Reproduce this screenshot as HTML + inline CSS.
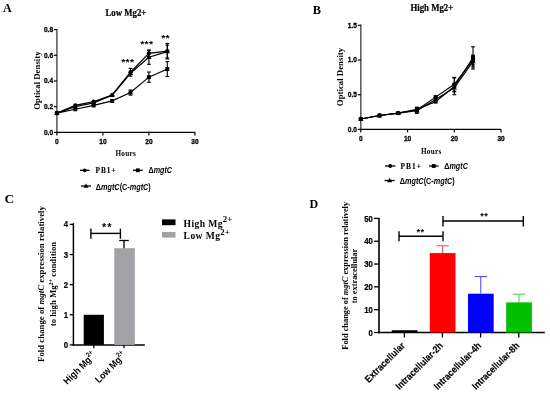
<!DOCTYPE html>
<html><head><meta charset="utf-8"><style>
html,body{margin:0;padding:0;background:#fff;width:550px;height:393px;overflow:hidden}
#w{width:550px;height:393px;will-change:transform}
svg{display:block}
text{fill:#000}
</style></head><body><div id="w">
<svg width="550" height="393" viewBox="0 0 550 393">
<rect width="550" height="393" fill="#fff"/>
<text transform="translate(3.00,12.00)" font-size="12" style="font-family:'Liberation Serif',serif;font-weight:bold" text-anchor="start" >A</text>
<text transform="translate(105.50,15.80) scale(1.0,1.08)" font-size="8.8" style="font-family:'Liberation Serif',serif;font-weight:bold" text-anchor="start" stroke="#000" stroke-width="0.2">Low Mg2+</text>
<line x1="56.90" y1="29.00" x2="56.90" y2="133.00" stroke="#606060" stroke-width="1.6"/>
<line x1="56.30" y1="132.40" x2="195.20" y2="132.40" stroke="#000" stroke-width="1.3"/>
<line x1="53.90" y1="132.40" x2="56.90" y2="132.40" stroke="#000" stroke-width="1.2"/>
<text transform="translate(53.10,134.80) scale(1.0,1.2)" font-size="6.6" style="font-family:'Liberation Sans',sans-serif;font-weight:bold" text-anchor="end" stroke="#000" stroke-width="0.25">0.0</text>
<line x1="53.90" y1="106.70" x2="56.90" y2="106.70" stroke="#000" stroke-width="1.2"/>
<text transform="translate(53.10,109.10) scale(1.0,1.2)" font-size="6.6" style="font-family:'Liberation Sans',sans-serif;font-weight:bold" text-anchor="end" stroke="#000" stroke-width="0.25">0.2</text>
<line x1="53.90" y1="81.00" x2="56.90" y2="81.00" stroke="#000" stroke-width="1.2"/>
<text transform="translate(53.10,83.40) scale(1.0,1.2)" font-size="6.6" style="font-family:'Liberation Sans',sans-serif;font-weight:bold" text-anchor="end" stroke="#000" stroke-width="0.25">0.4</text>
<line x1="53.90" y1="55.30" x2="56.90" y2="55.30" stroke="#000" stroke-width="1.2"/>
<text transform="translate(53.10,57.70) scale(1.0,1.2)" font-size="6.6" style="font-family:'Liberation Sans',sans-serif;font-weight:bold" text-anchor="end" stroke="#000" stroke-width="0.25">0.6</text>
<line x1="53.90" y1="29.60" x2="56.90" y2="29.60" stroke="#000" stroke-width="1.2"/>
<text transform="translate(53.10,32.00) scale(1.0,1.2)" font-size="6.6" style="font-family:'Liberation Sans',sans-serif;font-weight:bold" text-anchor="end" stroke="#000" stroke-width="0.25">0.8</text>
<line x1="56.90" y1="132.40" x2="56.90" y2="135.40" stroke="#000" stroke-width="1.2"/>
<text transform="translate(56.90,143.90) scale(1.0,1.2)" font-size="6.6" style="font-family:'Liberation Sans',sans-serif;font-weight:bold" text-anchor="middle" stroke="#000" stroke-width="0.25">0</text>
<line x1="102.90" y1="132.40" x2="102.90" y2="135.40" stroke="#000" stroke-width="1.2"/>
<text transform="translate(102.90,143.90) scale(1.0,1.2)" font-size="6.6" style="font-family:'Liberation Sans',sans-serif;font-weight:bold" text-anchor="middle" stroke="#000" stroke-width="0.25">10</text>
<line x1="148.90" y1="132.40" x2="148.90" y2="135.40" stroke="#000" stroke-width="1.2"/>
<text transform="translate(148.90,143.90) scale(1.0,1.2)" font-size="6.6" style="font-family:'Liberation Sans',sans-serif;font-weight:bold" text-anchor="middle" stroke="#000" stroke-width="0.25">20</text>
<line x1="194.90" y1="132.40" x2="194.90" y2="135.40" stroke="#000" stroke-width="1.2"/>
<text transform="translate(194.90,143.90) scale(1.0,1.2)" font-size="6.6" style="font-family:'Liberation Sans',sans-serif;font-weight:bold" text-anchor="middle" stroke="#000" stroke-width="0.25">30</text>
<polyline points="56.90,113.12 75.30,109.27 93.70,105.42 112.10,100.92 130.50,92.56 148.90,77.15 167.30,69.05" fill="none" stroke="#000" stroke-width="1.2"/>
<line x1="130.50" y1="90.00" x2="130.50" y2="95.14" stroke="#000" stroke-width="1.1"/>
<line x1="128.60" y1="90.00" x2="132.40" y2="90.00" stroke="#000" stroke-width="1.1"/>
<line x1="128.60" y1="95.14" x2="132.40" y2="95.14" stroke="#000" stroke-width="1.1"/>
<line x1="148.90" y1="72.01" x2="148.90" y2="82.28" stroke="#000" stroke-width="1.1"/>
<line x1="147.00" y1="72.01" x2="150.80" y2="72.01" stroke="#000" stroke-width="1.1"/>
<line x1="147.00" y1="82.28" x2="150.80" y2="82.28" stroke="#000" stroke-width="1.1"/>
<line x1="167.30" y1="61.60" x2="167.30" y2="76.50" stroke="#000" stroke-width="1.1"/>
<line x1="165.40" y1="61.60" x2="169.20" y2="61.60" stroke="#000" stroke-width="1.1"/>
<line x1="165.40" y1="76.50" x2="169.20" y2="76.50" stroke="#000" stroke-width="1.1"/>
<rect x="54.90" y="111.12" width="4.00" height="4.00" fill="#000"/>
<rect x="73.30" y="107.27" width="4.00" height="4.00" fill="#000"/>
<rect x="91.70" y="103.42" width="4.00" height="4.00" fill="#000"/>
<rect x="110.10" y="98.92" width="4.00" height="4.00" fill="#000"/>
<rect x="128.50" y="90.56" width="4.00" height="4.00" fill="#000"/>
<rect x="146.90" y="75.15" width="4.00" height="4.00" fill="#000"/>
<rect x="165.30" y="67.05" width="4.00" height="4.00" fill="#000"/>
<polyline points="56.90,113.12 75.30,106.70 93.70,102.84 112.10,95.14 130.50,73.29 148.90,57.23 167.30,51.57" fill="none" stroke="#000" stroke-width="1.2"/>
<line x1="148.90" y1="50.16" x2="148.90" y2="64.30" stroke="#000" stroke-width="1.1"/>
<line x1="147.00" y1="50.16" x2="150.80" y2="50.16" stroke="#000" stroke-width="1.1"/>
<line x1="147.00" y1="64.30" x2="150.80" y2="64.30" stroke="#000" stroke-width="1.1"/>
<line x1="167.30" y1="45.15" x2="167.30" y2="58.00" stroke="#000" stroke-width="1.1"/>
<line x1="165.40" y1="45.15" x2="169.20" y2="45.15" stroke="#000" stroke-width="1.1"/>
<line x1="165.40" y1="58.00" x2="169.20" y2="58.00" stroke="#000" stroke-width="1.1"/>
<polygon points="56.90,110.56 59.57,114.88 54.23,114.88" fill="#000"/>
<polygon points="75.30,104.13 77.97,108.46 72.63,108.46" fill="#000"/>
<polygon points="93.70,100.28 96.37,104.60 91.03,104.60" fill="#000"/>
<polygon points="112.10,92.57 114.77,96.89 109.43,96.89" fill="#000"/>
<polygon points="130.50,70.72 133.17,75.05 127.83,75.05" fill="#000"/>
<polygon points="148.90,54.66 151.57,58.99 146.23,58.99" fill="#000"/>
<polygon points="167.30,49.00 169.97,53.33 164.63,53.33" fill="#000"/>
<polyline points="56.90,113.12 75.30,105.42 93.70,101.56 112.10,95.14 130.50,72.26 148.90,53.37 167.30,51.19" fill="none" stroke="#000" stroke-width="1.2"/>
<line x1="130.50" y1="68.41" x2="130.50" y2="76.12" stroke="#000" stroke-width="1.1"/>
<line x1="128.60" y1="68.41" x2="132.40" y2="68.41" stroke="#000" stroke-width="1.1"/>
<line x1="128.60" y1="76.12" x2="132.40" y2="76.12" stroke="#000" stroke-width="1.1"/>
<line x1="148.90" y1="50.16" x2="148.90" y2="56.59" stroke="#000" stroke-width="1.1"/>
<line x1="147.00" y1="50.16" x2="150.80" y2="50.16" stroke="#000" stroke-width="1.1"/>
<line x1="147.00" y1="56.59" x2="150.80" y2="56.59" stroke="#000" stroke-width="1.1"/>
<line x1="167.30" y1="43.48" x2="167.30" y2="58.90" stroke="#000" stroke-width="1.1"/>
<line x1="165.40" y1="43.48" x2="169.20" y2="43.48" stroke="#000" stroke-width="1.1"/>
<line x1="165.40" y1="58.90" x2="169.20" y2="58.90" stroke="#000" stroke-width="1.1"/>
<circle cx="56.90" cy="113.12" r="2.15" fill="#000"/>
<circle cx="75.30" cy="105.42" r="2.15" fill="#000"/>
<circle cx="93.70" cy="101.56" r="2.15" fill="#000"/>
<circle cx="112.10" cy="95.14" r="2.15" fill="#000"/>
<circle cx="130.50" cy="72.26" r="2.15" fill="#000"/>
<circle cx="148.90" cy="53.37" r="2.15" fill="#000"/>
<circle cx="167.30" cy="51.19" r="2.15" fill="#000"/>
<text transform="translate(125.80,155.70) scale(1.0,1.1)" font-size="7.2" style="font-family:'Liberation Serif',serif;font-weight:bold" text-anchor="middle" letter-spacing="0.3">Hours</text>
<text transform="translate(39.60,80.60) rotate(-90) scale(1.1,1.0)" font-size="8.0" style="font-family:'Liberation Serif',serif;font-weight:bold" text-anchor="middle" >Optical Density</text>
<text transform="translate(127.80,65.30) scale(1.0,0.9)" font-size="10.5" style="font-family:'Liberation Sans',sans-serif;font-weight:bold" text-anchor="middle" letter-spacing="0.3">***</text>
<text transform="translate(146.80,47.10) scale(1.0,0.9)" font-size="10.5" style="font-family:'Liberation Sans',sans-serif;font-weight:bold" text-anchor="middle" letter-spacing="0.3">***</text>
<text transform="translate(165.60,41.00) scale(1.0,0.9)" font-size="10.5" style="font-family:'Liberation Sans',sans-serif;font-weight:bold" text-anchor="middle" letter-spacing="0.3">**</text>
<line x1="80.00" y1="170.30" x2="89.50" y2="170.30" stroke="#000" stroke-width="1.3"/>
<circle cx="84.75" cy="170.30" r="1.9" fill="#000"/>
<text transform="translate(95.40,173.10) scale(1.0,1.12)" font-size="7.4" style="font-family:'Liberation Serif',serif;font-weight:bold" text-anchor="start" letter-spacing="1.0" stroke="#000" stroke-width="0.12">PB1+</text>
<line x1="133.00" y1="170.30" x2="142.70" y2="170.30" stroke="#000" stroke-width="1.3"/>
<rect x="135.95" y="168.40" width="3.80" height="3.80" fill="#000"/>
<text transform="translate(148.50,173.30) scale(1.0,1.18)" font-size="7.2" style="font-family:'Liberation Sans',sans-serif;font-weight:bold" text-anchor="start" >&#916;<tspan font-style="italic">mgtC</tspan></text>
<line x1="81.00" y1="186.00" x2="91.00" y2="186.00" stroke="#000" stroke-width="1.3"/>
<polygon points="86.00,183.54 88.55,187.66 83.45,187.66" fill="#000"/>
<text transform="translate(95.80,189.50) scale(1.0,1.22)" font-size="7.2" style="font-family:'Liberation Sans',sans-serif;font-weight:bold" text-anchor="start" textLength="55" lengthAdjust="spacingAndGlyphs">&#916;<tspan font-style="italic">mgtC</tspan>(C-<tspan font-style="italic">mgtC</tspan>)</text>
<text transform="translate(312.80,14.30)" font-size="12.3" style="font-family:'Liberation Serif',serif;font-weight:bold" text-anchor="start" >B</text>
<text transform="translate(410.40,10.90) scale(1.0,1.08)" font-size="8.8" style="font-family:'Liberation Serif',serif;font-weight:bold" text-anchor="start" stroke="#000" stroke-width="0.2">High Mg2+</text>
<line x1="360.80" y1="24.60" x2="360.80" y2="130.00" stroke="#606060" stroke-width="1.6"/>
<line x1="360.20" y1="129.40" x2="500.90" y2="129.40" stroke="#000" stroke-width="1.3"/>
<line x1="357.80" y1="129.40" x2="360.80" y2="129.40" stroke="#000" stroke-width="1.2"/>
<text transform="translate(357.00,131.80) scale(1.0,1.2)" font-size="6.6" style="font-family:'Liberation Sans',sans-serif;font-weight:bold" text-anchor="end" stroke="#000" stroke-width="0.25">0.0</text>
<line x1="357.80" y1="94.70" x2="360.80" y2="94.70" stroke="#000" stroke-width="1.2"/>
<text transform="translate(357.00,97.10) scale(1.0,1.2)" font-size="6.6" style="font-family:'Liberation Sans',sans-serif;font-weight:bold" text-anchor="end" stroke="#000" stroke-width="0.25">0.5</text>
<line x1="357.80" y1="60.00" x2="360.80" y2="60.00" stroke="#000" stroke-width="1.2"/>
<text transform="translate(357.00,62.40) scale(1.0,1.2)" font-size="6.6" style="font-family:'Liberation Sans',sans-serif;font-weight:bold" text-anchor="end" stroke="#000" stroke-width="0.25">1.0</text>
<line x1="357.80" y1="25.30" x2="360.80" y2="25.30" stroke="#000" stroke-width="1.2"/>
<text transform="translate(357.00,27.70) scale(1.0,1.2)" font-size="6.6" style="font-family:'Liberation Sans',sans-serif;font-weight:bold" text-anchor="end" stroke="#000" stroke-width="0.25">1.5</text>
<line x1="360.80" y1="129.40" x2="360.80" y2="132.40" stroke="#000" stroke-width="1.2"/>
<text transform="translate(360.80,141.20) scale(1.0,1.2)" font-size="6.6" style="font-family:'Liberation Sans',sans-serif;font-weight:bold" text-anchor="middle" stroke="#000" stroke-width="0.25">0</text>
<line x1="407.55" y1="129.40" x2="407.55" y2="132.40" stroke="#000" stroke-width="1.2"/>
<text transform="translate(407.55,141.20) scale(1.0,1.2)" font-size="6.6" style="font-family:'Liberation Sans',sans-serif;font-weight:bold" text-anchor="middle" stroke="#000" stroke-width="0.25">10</text>
<line x1="454.30" y1="129.40" x2="454.30" y2="132.40" stroke="#000" stroke-width="1.2"/>
<text transform="translate(454.30,141.20) scale(1.0,1.2)" font-size="6.6" style="font-family:'Liberation Sans',sans-serif;font-weight:bold" text-anchor="middle" stroke="#000" stroke-width="0.25">20</text>
<line x1="501.05" y1="129.40" x2="501.05" y2="132.40" stroke="#000" stroke-width="1.2"/>
<text transform="translate(501.05,141.20) scale(1.0,1.2)" font-size="6.6" style="font-family:'Liberation Sans',sans-serif;font-weight:bold" text-anchor="middle" stroke="#000" stroke-width="0.25">30</text>
<polyline points="360.80,118.99 379.50,115.52 398.20,113.09 416.90,109.27 435.60,101.64 454.30,86.37 473.00,57.92" fill="none" stroke="#000" stroke-width="1.2"/>
<line x1="416.90" y1="107.19" x2="416.90" y2="111.36" stroke="#000" stroke-width="1.1"/>
<line x1="415.00" y1="107.19" x2="418.80" y2="107.19" stroke="#000" stroke-width="1.1"/>
<line x1="415.00" y1="111.36" x2="418.80" y2="111.36" stroke="#000" stroke-width="1.1"/>
<line x1="454.30" y1="78.04" x2="454.30" y2="94.70" stroke="#000" stroke-width="1.1"/>
<line x1="452.40" y1="78.04" x2="456.20" y2="78.04" stroke="#000" stroke-width="1.1"/>
<line x1="452.40" y1="94.70" x2="456.20" y2="94.70" stroke="#000" stroke-width="1.1"/>
<line x1="473.00" y1="46.81" x2="473.00" y2="69.02" stroke="#000" stroke-width="1.1"/>
<line x1="471.10" y1="46.81" x2="474.90" y2="46.81" stroke="#000" stroke-width="1.1"/>
<line x1="471.10" y1="69.02" x2="474.90" y2="69.02" stroke="#000" stroke-width="1.1"/>
<rect x="358.80" y="116.99" width="4.00" height="4.00" fill="#000"/>
<rect x="377.50" y="113.52" width="4.00" height="4.00" fill="#000"/>
<rect x="396.20" y="111.09" width="4.00" height="4.00" fill="#000"/>
<rect x="414.90" y="107.27" width="4.00" height="4.00" fill="#000"/>
<rect x="433.60" y="99.64" width="4.00" height="4.00" fill="#000"/>
<rect x="452.30" y="84.37" width="4.00" height="4.00" fill="#000"/>
<rect x="471.00" y="55.92" width="4.00" height="4.00" fill="#000"/>
<polyline points="360.80,118.99 379.50,115.52 398.20,113.09 416.90,110.66 435.60,99.56 454.30,87.76 473.00,61.39" fill="none" stroke="#000" stroke-width="1.2"/>
<line x1="416.90" y1="107.89" x2="416.90" y2="113.44" stroke="#000" stroke-width="1.1"/>
<line x1="415.00" y1="107.89" x2="418.80" y2="107.89" stroke="#000" stroke-width="1.1"/>
<line x1="415.00" y1="113.44" x2="418.80" y2="113.44" stroke="#000" stroke-width="1.1"/>
<line x1="454.30" y1="83.60" x2="454.30" y2="91.92" stroke="#000" stroke-width="1.1"/>
<line x1="452.40" y1="83.60" x2="456.20" y2="83.60" stroke="#000" stroke-width="1.1"/>
<line x1="452.40" y1="91.92" x2="456.20" y2="91.92" stroke="#000" stroke-width="1.1"/>
<line x1="473.00" y1="55.84" x2="473.00" y2="66.94" stroke="#000" stroke-width="1.1"/>
<line x1="471.10" y1="55.84" x2="474.90" y2="55.84" stroke="#000" stroke-width="1.1"/>
<line x1="471.10" y1="66.94" x2="474.90" y2="66.94" stroke="#000" stroke-width="1.1"/>
<polygon points="360.80,116.42 363.47,120.75 358.13,120.75" fill="#000"/>
<polygon points="379.50,112.95 382.17,117.28 376.83,117.28" fill="#000"/>
<polygon points="398.20,110.52 400.87,114.85 395.53,114.85" fill="#000"/>
<polygon points="416.90,108.09 419.57,112.42 414.23,112.42" fill="#000"/>
<polygon points="435.60,96.99 438.27,101.32 432.93,101.32" fill="#000"/>
<polygon points="454.30,85.19 456.97,89.52 451.63,89.52" fill="#000"/>
<polygon points="473.00,58.82 475.67,63.15 470.33,63.15" fill="#000"/>
<polyline points="360.80,118.99 379.50,115.52 398.20,113.09 416.90,109.97 435.60,97.13 454.30,84.29 473.00,60.00" fill="none" stroke="#000" stroke-width="1.2"/>
<line x1="416.90" y1="107.89" x2="416.90" y2="112.05" stroke="#000" stroke-width="1.1"/>
<line x1="415.00" y1="107.89" x2="418.80" y2="107.89" stroke="#000" stroke-width="1.1"/>
<line x1="415.00" y1="112.05" x2="418.80" y2="112.05" stroke="#000" stroke-width="1.1"/>
<line x1="435.60" y1="95.74" x2="435.60" y2="98.52" stroke="#000" stroke-width="1.1"/>
<line x1="433.70" y1="95.74" x2="437.50" y2="95.74" stroke="#000" stroke-width="1.1"/>
<line x1="433.70" y1="98.52" x2="437.50" y2="98.52" stroke="#000" stroke-width="1.1"/>
<line x1="454.30" y1="77.35" x2="454.30" y2="91.23" stroke="#000" stroke-width="1.1"/>
<line x1="452.40" y1="77.35" x2="456.20" y2="77.35" stroke="#000" stroke-width="1.1"/>
<line x1="452.40" y1="91.23" x2="456.20" y2="91.23" stroke="#000" stroke-width="1.1"/>
<line x1="473.00" y1="55.14" x2="473.00" y2="64.86" stroke="#000" stroke-width="1.1"/>
<line x1="471.10" y1="55.14" x2="474.90" y2="55.14" stroke="#000" stroke-width="1.1"/>
<line x1="471.10" y1="64.86" x2="474.90" y2="64.86" stroke="#000" stroke-width="1.1"/>
<circle cx="360.80" cy="118.99" r="2.15" fill="#000"/>
<circle cx="379.50" cy="115.52" r="2.15" fill="#000"/>
<circle cx="398.20" cy="113.09" r="2.15" fill="#000"/>
<circle cx="416.90" cy="109.97" r="2.15" fill="#000"/>
<circle cx="435.60" cy="97.13" r="2.15" fill="#000"/>
<circle cx="454.30" cy="84.29" r="2.15" fill="#000"/>
<circle cx="473.00" cy="60.00" r="2.15" fill="#000"/>
<text transform="translate(431.30,154.10) scale(1.0,1.1)" font-size="7.2" style="font-family:'Liberation Serif',serif;font-weight:bold" text-anchor="middle" letter-spacing="0.3">Hours</text>
<text transform="translate(343.40,77.00) rotate(-90) scale(1.1,1.0)" font-size="8.0" style="font-family:'Liberation Serif',serif;font-weight:bold" text-anchor="middle" >Optical Density</text>
<line x1="385.00" y1="166.00" x2="395.40" y2="166.00" stroke="#000" stroke-width="1.3"/>
<circle cx="390.20" cy="166.00" r="1.9" fill="#000"/>
<text transform="translate(400.50,168.80) scale(1.0,1.12)" font-size="7.4" style="font-family:'Liberation Serif',serif;font-weight:bold" text-anchor="start" letter-spacing="1.0" stroke="#000" stroke-width="0.12">PB1+</text>
<line x1="429.00" y1="166.00" x2="438.50" y2="166.00" stroke="#000" stroke-width="1.3"/>
<rect x="431.85" y="164.10" width="3.80" height="3.80" fill="#000"/>
<text transform="translate(444.30,169.00) scale(1.0,1.18)" font-size="7.2" style="font-family:'Liberation Sans',sans-serif;font-weight:bold" text-anchor="start" >&#916;<tspan font-style="italic">mgtC</tspan></text>
<line x1="384.50" y1="180.50" x2="394.70" y2="180.50" stroke="#000" stroke-width="1.3"/>
<polygon points="389.60,178.04 392.16,182.16 387.05,182.16" fill="#000"/>
<text transform="translate(399.80,184.00) scale(1.0,1.22)" font-size="7.2" style="font-family:'Liberation Sans',sans-serif;font-weight:bold" text-anchor="start" textLength="55" lengthAdjust="spacingAndGlyphs">&#916;<tspan font-style="italic">mgtC</tspan>(C-<tspan font-style="italic">mgtC</tspan>)</text>
<text transform="translate(4.60,203.00)" font-size="13.5" style="font-family:'Liberation Serif',serif;font-weight:bold" text-anchor="start" >C</text>
<text transform="translate(44.00,284.00) rotate(-90) scale(1.13,1.0)" font-size="7.8" style="font-family:'Liberation Serif',serif;font-weight:bold" text-anchor="middle" >Fold change of <tspan font-style="italic">mgtC</tspan> expression relatively</text>
<text transform="translate(56.20,284.00) rotate(-90) scale(1.12,1.0)" font-size="7.8" style="font-family:'Liberation Serif',serif;font-weight:bold" text-anchor="middle" >to high Mg<tspan font-size="5.5" dy="-3">2+</tspan><tspan dy="3"> condition</tspan></text>
<line x1="73.40" y1="223.20" x2="73.40" y2="345.60" stroke="#000" stroke-width="1.5"/>
<line x1="72.70" y1="344.90" x2="144.80" y2="344.90" stroke="#000" stroke-width="1.5"/>
<line x1="69.80" y1="344.90" x2="73.40" y2="344.90" stroke="#000" stroke-width="1.3"/>
<text transform="translate(68.20,347.90) scale(1.0,1.12)" font-size="7.8" style="font-family:'Liberation Sans',sans-serif;font-weight:bold" text-anchor="end" stroke="#000" stroke-width="0.2">0</text>
<line x1="69.80" y1="314.77" x2="73.40" y2="314.77" stroke="#000" stroke-width="1.3"/>
<text transform="translate(68.20,317.77) scale(1.0,1.12)" font-size="7.8" style="font-family:'Liberation Sans',sans-serif;font-weight:bold" text-anchor="end" stroke="#000" stroke-width="0.2">1</text>
<line x1="69.80" y1="284.65" x2="73.40" y2="284.65" stroke="#000" stroke-width="1.3"/>
<text transform="translate(68.20,287.65) scale(1.0,1.12)" font-size="7.8" style="font-family:'Liberation Sans',sans-serif;font-weight:bold" text-anchor="end" stroke="#000" stroke-width="0.2">2</text>
<line x1="69.80" y1="254.52" x2="73.40" y2="254.52" stroke="#000" stroke-width="1.3"/>
<text transform="translate(68.20,257.52) scale(1.0,1.12)" font-size="7.8" style="font-family:'Liberation Sans',sans-serif;font-weight:bold" text-anchor="end" stroke="#000" stroke-width="0.2">3</text>
<line x1="69.80" y1="224.40" x2="73.40" y2="224.40" stroke="#000" stroke-width="1.3"/>
<text transform="translate(68.20,227.40) scale(1.0,1.12)" font-size="7.8" style="font-family:'Liberation Sans',sans-serif;font-weight:bold" text-anchor="end" stroke="#000" stroke-width="0.2">4</text>
<rect x="83.70" y="314.77" width="20.20" height="30.12" fill="#000"/>
<rect x="114.30" y="248.20" width="20.50" height="96.70" fill="#a2a2a6"/>
<line x1="124.00" y1="240.50" x2="124.00" y2="248.20" stroke="#000" stroke-width="1.3"/>
<line x1="119.20" y1="240.50" x2="128.80" y2="240.50" stroke="#000" stroke-width="1.3"/>
<line x1="93.80" y1="344.90" x2="93.80" y2="348.20" stroke="#000" stroke-width="1.3"/>
<line x1="124.00" y1="344.90" x2="124.00" y2="348.20" stroke="#000" stroke-width="1.3"/>
<line x1="90.90" y1="233.40" x2="120.40" y2="233.40" stroke="#000" stroke-width="1.4"/>
<line x1="90.90" y1="228.60" x2="90.90" y2="238.70" stroke="#000" stroke-width="1.4"/>
<line x1="120.40" y1="228.60" x2="120.40" y2="238.70" stroke="#000" stroke-width="1.4"/>
<text transform="translate(107.30,231.30) scale(1.0,0.95)" font-size="11" style="font-family:'Liberation Sans',sans-serif;font-weight:bold" text-anchor="middle" letter-spacing="1.0">**</text>
<rect x="162.00" y="219.40" width="13.50" height="5.80" fill="#000"/>
<rect x="162.00" y="232.00" width="13.50" height="5.60" fill="#a2a2a6"/>
<text transform="translate(183.60,226.80) scale(1.0,1.05)" font-size="9.6" style="font-family:'Liberation Serif',serif;font-weight:bold" text-anchor="start" letter-spacing="0.4">High Mg<tspan font-size="8.8" dy="-4.3" dx="-0.2" letter-spacing="0.2">2+</tspan></text>
<text transform="translate(183.60,239.40) scale(1.0,1.05)" font-size="9.6" style="font-family:'Liberation Serif',serif;font-weight:bold" text-anchor="start" letter-spacing="0.4">Low Mg<tspan font-size="8.8" dy="-4.3" dx="-0.2" letter-spacing="0.2">2+</tspan></text>
<text transform="translate(91.90,360.40) rotate(-45) scale(1.0,1.1)" font-size="8.8" style="font-family:'Liberation Sans',sans-serif;font-weight:bold" text-anchor="end" >High Mg</text>
<text transform="translate(88.50,357.60) rotate(-45) scale(1.0,1.1)" font-size="6" style="font-family:'Liberation Sans',sans-serif;font-weight:bold" text-anchor="start" >2+</text>
<text transform="translate(122.10,360.40) rotate(-45) scale(1.0,1.1)" font-size="8.8" style="font-family:'Liberation Sans',sans-serif;font-weight:bold" text-anchor="end" >Low Mg</text>
<text transform="translate(118.70,357.60) rotate(-45) scale(1.0,1.1)" font-size="6" style="font-family:'Liberation Sans',sans-serif;font-weight:bold" text-anchor="start" >2+</text>
<text transform="translate(309.50,207.60)" font-size="12" style="font-family:'Liberation Serif',serif;font-weight:bold" text-anchor="start" >D</text>
<text transform="translate(347.60,275.80) rotate(-90) scale(1.1,1.0)" font-size="7.6" style="font-family:'Liberation Serif',serif;font-weight:bold" text-anchor="middle" >Fold change of <tspan font-style="italic">mgtC</tspan> expression relatively</text>
<text transform="translate(357.20,276.00) rotate(-90) scale(1.1,1.0)" font-size="7.6" style="font-family:'Liberation Serif',serif;font-weight:bold" text-anchor="middle" >to extracellular</text>
<line x1="379.00" y1="218.00" x2="379.00" y2="333.20" stroke="#000" stroke-width="1.6"/>
<line x1="378.30" y1="332.50" x2="544.80" y2="332.50" stroke="#000" stroke-width="1.6"/>
<line x1="374.00" y1="332.50" x2="379.00" y2="332.50" stroke="#000" stroke-width="1.3"/>
<text transform="translate(372.90,335.60) scale(1.0,1.15)" font-size="7.8" style="font-family:'Liberation Sans',sans-serif;font-weight:bold" text-anchor="end" stroke="#000" stroke-width="0.2">0</text>
<line x1="374.00" y1="309.68" x2="379.00" y2="309.68" stroke="#000" stroke-width="1.3"/>
<text transform="translate(372.90,312.78) scale(1.0,1.15)" font-size="7.8" style="font-family:'Liberation Sans',sans-serif;font-weight:bold" text-anchor="end" stroke="#000" stroke-width="0.2">10</text>
<line x1="374.00" y1="286.86" x2="379.00" y2="286.86" stroke="#000" stroke-width="1.3"/>
<text transform="translate(372.90,289.96) scale(1.0,1.15)" font-size="7.8" style="font-family:'Liberation Sans',sans-serif;font-weight:bold" text-anchor="end" stroke="#000" stroke-width="0.2">20</text>
<line x1="374.00" y1="264.04" x2="379.00" y2="264.04" stroke="#000" stroke-width="1.3"/>
<text transform="translate(372.90,267.14) scale(1.0,1.15)" font-size="7.8" style="font-family:'Liberation Sans',sans-serif;font-weight:bold" text-anchor="end" stroke="#000" stroke-width="0.2">30</text>
<line x1="374.00" y1="241.22" x2="379.00" y2="241.22" stroke="#000" stroke-width="1.3"/>
<text transform="translate(372.90,244.32) scale(1.0,1.15)" font-size="7.8" style="font-family:'Liberation Sans',sans-serif;font-weight:bold" text-anchor="end" stroke="#000" stroke-width="0.2">40</text>
<line x1="374.00" y1="218.40" x2="379.00" y2="218.40" stroke="#000" stroke-width="1.3"/>
<text transform="translate(372.90,221.50) scale(1.0,1.15)" font-size="7.8" style="font-family:'Liberation Sans',sans-serif;font-weight:bold" text-anchor="end" stroke="#000" stroke-width="0.2">50</text>
<rect x="391.80" y="330.22" width="25.70" height="2.28" fill="#000000"/>
<line x1="404.40" y1="332.50" x2="404.40" y2="337.50" stroke="#000" stroke-width="1.3"/>
<rect x="429.80" y="253.09" width="25.70" height="79.41" fill="#ff0000"/>
<g opacity="0.75">
<line x1="442.60" y1="245.78" x2="442.60" y2="253.09" stroke="#ff0000" stroke-width="1.0"/>
<line x1="436.40" y1="245.78" x2="448.80" y2="245.78" stroke="#ff0000" stroke-width="1.0"/>
</g>
<line x1="442.40" y1="332.50" x2="442.40" y2="337.50" stroke="#000" stroke-width="1.3"/>
<rect x="468.00" y="293.71" width="25.70" height="38.79" fill="#0000ff"/>
<g opacity="0.75">
<line x1="480.80" y1="276.59" x2="480.80" y2="293.71" stroke="#0000ff" stroke-width="1.0"/>
<line x1="474.60" y1="276.59" x2="487.00" y2="276.59" stroke="#0000ff" stroke-width="1.0"/>
</g>
<line x1="480.60" y1="332.50" x2="480.60" y2="337.50" stroke="#000" stroke-width="1.3"/>
<rect x="506.20" y="302.38" width="25.70" height="30.12" fill="#00c000"/>
<g opacity="0.75">
<line x1="519.00" y1="294.16" x2="519.00" y2="302.38" stroke="#00c000" stroke-width="1.0"/>
<line x1="512.80" y1="294.16" x2="525.20" y2="294.16" stroke="#00c000" stroke-width="1.0"/>
</g>
<line x1="518.80" y1="332.50" x2="518.80" y2="337.50" stroke="#000" stroke-width="1.3"/>
<line x1="399.00" y1="236.30" x2="443.00" y2="236.30" stroke="#000" stroke-width="1.4"/>
<line x1="399.00" y1="231.30" x2="399.00" y2="241.30" stroke="#000" stroke-width="1.4"/>
<line x1="443.00" y1="231.30" x2="443.00" y2="241.30" stroke="#000" stroke-width="1.4"/>
<text transform="translate(420.60,235.30)" font-size="9.2" style="font-family:'Liberation Sans',sans-serif;font-weight:bold" text-anchor="middle" letter-spacing="0.6">**</text>
<line x1="443.00" y1="221.00" x2="523.30" y2="221.00" stroke="#000" stroke-width="1.4"/>
<line x1="443.00" y1="216.00" x2="443.00" y2="226.40" stroke="#000" stroke-width="1.4"/>
<line x1="523.30" y1="216.00" x2="523.30" y2="226.40" stroke="#000" stroke-width="1.4"/>
<text transform="translate(484.30,218.90)" font-size="9.2" style="font-family:'Liberation Sans',sans-serif;font-weight:bold" text-anchor="middle" letter-spacing="0.6">**</text>
<text transform="translate(405.60,346.30) rotate(-45) scale(1.0,1.12)" font-size="8.7" style="font-family:'Liberation Sans',sans-serif;font-weight:bold" text-anchor="end" stroke="#000" stroke-width="0.15">Extracellular</text>
<text transform="translate(443.60,346.30) rotate(-45) scale(1.0,1.12)" font-size="8.7" style="font-family:'Liberation Sans',sans-serif;font-weight:bold" text-anchor="end" stroke="#000" stroke-width="0.15">Intracellular-2h</text>
<text transform="translate(481.80,346.30) rotate(-45) scale(1.0,1.12)" font-size="8.7" style="font-family:'Liberation Sans',sans-serif;font-weight:bold" text-anchor="end" stroke="#000" stroke-width="0.15">Intracellular-4h</text>
<text transform="translate(520.00,346.30) rotate(-45) scale(1.0,1.12)" font-size="8.7" style="font-family:'Liberation Sans',sans-serif;font-weight:bold" text-anchor="end" stroke="#000" stroke-width="0.15">Intracellular-8h</text>
</svg></div></body></html>
